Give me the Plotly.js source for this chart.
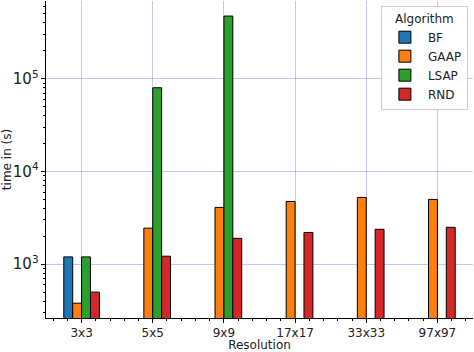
<!DOCTYPE html>
<html><head><meta charset="utf-8">
<script src="https://cdn.plot.ly/plotly-3.0.1.min.js"></script>
<style>body{margin:0;padding:0;background:#fff}#chart{width:474px;height:352px}</style>
</head><body><div id="chart"></div>
<script>
const categories = ["3x3", "5x5", "9x9", "17x17", "33x33", "97x97"];
const BF   = [1200, null, null, null, null, null];
const GAAP = [380, 2450, 4100, 4750, 5250, 5000];
const LSAP = [1200, 80000, 475000, null, null, null];
const RND  = [500, 1220, 1900, 2200, 2380, 2500];
const seriesNames = ["BF", "GAAP", "LSAP", "RND"];
const seriesValues = [BF, GAAP, LSAP, RND];
const colors = ["#1f77b4", "#ff7f0e", "#2ca02c", "#d62728"];

const idx = categories.map((c, i) => i);
const traces = seriesNames.map((n, k) => ({
  type: 'bar', name: n, x: idx, y: seriesValues[k],
  marker: {color: colors[k], line: {color: '#000', width: 1}}
}));

const layout = {
  width: 474, height: 352,
  margin: {l: 46, r: 1, t: 1, b: 34},
  barmode: 'group', bargap: 0.5, bargroupgap: 0,
  paper_bgcolor: '#fff', plot_bgcolor: '#fff',
  font: {family: 'DejaVu Sans', size: 12, color: '#222'},
  xaxis: {
    type: 'linear', range: [-0.5, 5.5],
    tickvals: idx, ticktext: categories,
    ticks: 'outside', ticklen: 4, tickcolor: '#000',
    showgrid: true, gridcolor: 'rgba(110,110,235,0.4)', gridwidth: 1,
    showline: true, linecolor: '#000', linewidth: 1, zeroline: false,
    minor: {dtick: 0.2, tick0: 0, ticks: 'outside', ticklen: 2, tickcolor: '#000', showgrid: false},
    title: {text: 'Resolution', font: {size: 12}, standoff: 2},
    tickfont: {size: 12}
  },
  yaxis: {
    type: 'log', range: [Math.log10(263), Math.log10(690000)],
    dtick: 1, exponentformat: 'power',
    ticks: 'outside', ticklen: 4, tickcolor: '#000',
    showgrid: true, gridcolor: 'rgba(110,110,235,0.4)', gridwidth: 1,
    showline: true, linecolor: '#000', linewidth: 1, zeroline: false,
    minor: {dtick: 'D1', ticks: 'outside', ticklen: 2, tickcolor: '#000', showgrid: false},
    title: {text: 'time in (s)', font: {size: 12}, standoff: 4},
    tickfont: {size: 12}
  },
  showlegend: true,
  legend: {
    x: 0.988, y: 0.984, xanchor: 'right', yanchor: 'top',
    bgcolor: 'rgba(255,255,255,0.9)', bordercolor: '#ccc', borderwidth: 1,
    font: {size: 12}, itemwidth: 36,
    title: {text: 'Algorithm', side: 'top center', font: {size: 12}},
    traceorder: 'normal'
  }
};
Plotly.newPlot('chart', traces, layout, {displayModeBar: false, staticPlot: true});
</script></body></html>
